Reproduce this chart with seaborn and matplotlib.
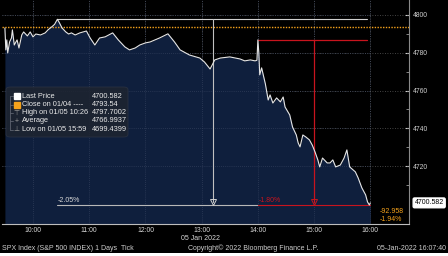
import numpy as np
import pandas as pd
import seaborn as sns
import matplotlib
matplotlib.use("Agg")
import matplotlib.pyplot as plt
from matplotlib.patches import FancyBboxPatch, Rectangle

# ---------------- data ----------------
times = ["09:30", "09:31", "09:32", "09:33", "09:35", "09:37", "09:38", "09:40", "09:43", "09:45",
         "09:48", "09:50", "09:54", "09:57", "10:00", "10:03", "10:08", "10:13", "10:16", "10:20",
         "10:23", "10:26", "10:28", "10:31", "10:35", "10:38", "10:41", "10:45", "10:50", "10:57",
         "11:01", "11:06", "11:11", "11:17", "11:25", "11:31", "11:38", "11:43", "11:49", "11:54",
         "12:00", "12:05", "12:15", "12:24", "12:31", "12:37", "12:47", "12:58", "13:03", "13:09",
         "13:14", "13:20", "13:30", "13:41", "13:46", "13:52", "13:57", "13:59", "14:00", "14:01",
         "14:02", "14:04", "14:08", "14:11", "14:13", "14:16", "14:20", "14:24", "14:27", "14:29",
         "14:34", "14:37", "14:41", "14:43", "14:45", "14:48", "14:51", "14:55", "14:58", "15:01",
         "15:04", "15:06", "15:09", "15:14", "15:17", "15:20", "15:23", "15:28", "15:32", "15:35",
         "15:38", "15:44", "15:47", "15:51", "15:55", "15:57", "15:59", "16:00"]
prices = [4793.1, 4781.5, 4786.8, 4779.9, 4785.7, 4787.8, 4792.1, 4784.1, 4786.8, 4782.5,
          4789.4, 4791.0, 4788.9, 4791.0, 4788.4, 4789.9, 4789.4, 4790.5, 4792.1, 4793.7,
          4795.0, 4797.7, 4796.0, 4793.1, 4791.0, 4789.9, 4790.5, 4789.4, 4790.5, 4791.5,
          4787.8, 4784.1, 4787.8, 4788.4, 4790.5, 4786.8, 4783.1, 4781.5, 4782.5, 4784.1,
          4785.2, 4785.7, 4787.8, 4790.0, 4785.7, 4781.5, 4778.8, 4777.2, 4775.1, 4771.4,
          4776.2, 4777.2, 4777.8, 4776.7, 4775.7, 4776.2, 4775.7, 4776.0, 4786.8, 4780.0,
          4768.3, 4772.0, 4763.5, 4755.0, 4757.7, 4753.4, 4756.1, 4754.0, 4756.6, 4751.3,
          4747.1, 4740.7, 4736.5, 4732.3, 4730.2, 4736.5, 4735.5, 4733.9, 4731.2, 4727.5,
          4723.3, 4719.6, 4724.3, 4721.7, 4721.7, 4723.3, 4719.6, 4720.6, 4724.3, 4728.6,
          4719.6, 4717.0, 4713.8, 4708.5, 4704.8, 4701.1, 4699.44, 4700.582]

legend_labels = ["Last Price", "Close on 01/04 ----", "High on 01/05 10:26", "Average", "Low on 01/05 15:59"]
legend_values = ["4700.582", "4793.54", "4797.7002", "4766.9937", "4699.4399"]
last_price = 4700.582
prev_close = 4793.54
high_price, high_time = 4797.7002, "10:26"
low_price, low_time = 4699.4399, "15:59"
spike_price, spike_time = 4786.8, "14:00"
hour_ticks = ["10:00", "11:00", "12:00", "13:00", "14:00", "15:00", "16:00"]
y_ticks = [4720, 4740, 4760, 4780, 4800]
drop_labels = ["-2.05%", "-1.80%"]
footer_left = "SPX Index (S&P 500 INDEX) 1 Days  Tick"
footer_mid = "Copyright\u00a9 2022 Bloomberg Finance L.P."
footer_right = "05-Jan-2022 16:07:40"
date_label = "05 Jan 2022"


def tmin(s):
    h, m = s.split(":")
    return int(h) * 60 + int(m) - 570


df = pd.DataFrame({"minute": [tmin(t) for t in times], "price": prices})

# ---------------- figure ----------------
W, H = 448, 256
fig = plt.figure(figsize=(W / 100, H / 100), dpi=100, facecolor="black")
sns.set_style("dark")
plt.rcParams["font.family"] = ["Liberation Sans", "DejaVu Sans"]


def fx(px):
    return px / W


def fy(py):
    return 1 - py / H


ax = fig.add_axes([fx(2), fy(224), fx(409) - fx(2), fy(0) - fy(224)])
ax.set_facecolor("black")
xmin, xmax = -3.1, 431.3
ymin, ymax = 4689.4, 4807.9
ax.set_xlim(xmin, xmax)
ax.set_ylim(ymin, ymax)

# grid
grid_kw = dict(color="#5a5a5a", lw=0.6, ls=(0, (1, 2)), zorder=1)
for t in hour_ticks:
    ax.axvline(tmin(t), **grid_kw)
for v in y_ticks:
    ax.axhline(v, **grid_kw)

# area + line
ax.fill_between(df["minute"], df["price"], ymin, color="#0f1f3d", zorder=2, lw=0)
for v in y_ticks:
    ax.plot([xmin, df["minute"].max()], [v, v], color="#3d4a66", lw=0.5, ls=(0, (1, 2)), zorder=2.5)
for t in hour_ticks:
    ax.plot([tmin(t), tmin(t)], [ymin, ymax], color="#3d4a66", lw=0.5, ls=(0, (1, 2)), zorder=2.5)

# previous close
ax.axhline(prev_close, color="#f5a21b", lw=1.0, ls=(0, (1, 1)), zorder=3)

# high -> low drawdown annotation
end_x = tmin("15:56")
hx, lx, sx = tmin(high_time), tmin(low_time), tmin(spike_time)
ax.plot([hx, end_x], [high_price, high_price], color="#d0d0d0", lw=0.8, zorder=3)
ax.plot([hx, sx], [low_price, low_price], color="#b8b8b8", lw=0.8, zorder=5)
mid1 = (hx + lx) / 2
ax.plot([mid1, mid1], [high_price, low_price + 1.5], color="#c0c0c0", lw=0.8, zorder=5)
ax.plot([mid1], [low_price + 1.8], marker="v", ms=4, mfc="none", mec="#d0d0d0", mew=0.7, zorder=6)
ax.text(hx, low_price + 0.8, drop_labels[0], color="#d8d8d8", fontsize=5, ha="left", va="bottom", zorder=6)

# spike -> low annotation
red = "#c8141e"
ax.plot([sx, end_x], [spike_price, spike_price], color=red, lw=0.9, zorder=3)
ax.plot([sx, tmin("16:00")], [low_price, low_price], color=red, lw=0.8, zorder=5)
mid2 = (sx + lx) / 2
ax.plot([mid2, mid2], [spike_price, low_price + 1.5], color=red, lw=0.9, zorder=5)
ax.plot([mid2], [low_price + 1.8], marker="v", ms=4, mfc="none", mec=red, mew=0.7, zorder=6)
ax.text(sx + 1, low_price + 0.8, drop_labels[1], color=red, fontsize=5, ha="left", va="bottom", zorder=6)

# price line on top
sns.lineplot(data=df, x="minute", y="price", ax=ax, color="#e6e6e6", lw=0.8, zorder=8)

# change box on the right
chg = last_price - prev_close
pct = chg / prev_close * 100
ax.text(tmin("16:10"), low_price - 1.5, f"{chg:.3f}\n{pct:.2f}%", color="#f5a21b", fontsize=5,
        ha="left", va="top", linespacing=1.2, zorder=6)

# axes styling
ax.set_xlabel("")
ax.set_ylabel("")
ax.set_xticks([tmin(t) for t in hour_ticks])
ax.set_xticklabels(hour_ticks)
ax.yaxis.tick_right()
ax.set_yticks(y_ticks)
ax.set_yticklabels([str(v) for v in y_ticks])
ax.set_yticks([4710, 4730, 4750, 4770, 4790], minor=True)
ax.tick_params(axis="x", colors="#d8d8d8", labelsize=4.9, length=0, pad=2)
ax.tick_params(axis="y", which="major", colors="#cfcfcf", labelsize=4.9, direction="in", length=3, pad=3,
               width=0.8)
ax.tick_params(axis="y", which="minor", colors="#9a9a9a", direction="in", length=2, width=0.6)
ax.grid(False)
for side in ["left", "top"]:
    ax.spines[side].set_visible(False)
ax.spines["right"].set_color("#8a8a8a")
ax.spines["right"].set_linewidth(0.8)
ax.spines["bottom"].set_color("#bdbdbd")
ax.spines["bottom"].set_linewidth(0.8)

# last price tag
ax.annotate(f"{last_price:.3f}", xy=(xmax, last_price), xycoords="data",
            xytext=(4, 0), textcoords="offset points", fontsize=5, color="black", va="center", ha="left",
            bbox=dict(boxstyle="round,pad=0.2", fc="white", ec="white"), annotation_clip=False, zorder=10)

# legend box
lg = FancyBboxPatch((fx(6), fy(137)), fx(128) - fx(6), fy(87) - fy(137),
                    boxstyle="round,pad=0,rounding_size=0.01", transform=fig.transFigure,
                    fc="#1e2430", ec="#2c3342", lw=0.6, alpha=0.85, zorder=20)
fig.patches.append(lg)
rows_y = [96, 104.5, 113, 121, 129.5]
fig.add_artist(plt.Line2D([fx(10), fx(10)], [fy(96), fy(129.5)], color="#5d6370", lw=0.6, transform=fig.transFigure, zorder=21))
icons = [("sq", "white"), ("sq", "#f5a21b"), ("T", "#9a9a9a"), ("+", "#9a9a9a"), ("L", "#9a9a9a")]
for (kind, col), yy, lab, val in zip(icons, rows_y, legend_labels, legend_values):
    fig.add_artist(plt.Line2D([fx(10), fx(13)], [fy(yy), fy(yy)], color="#5d6370", lw=0.6,
                              transform=fig.transFigure, zorder=21))
    if kind == "sq":
        fig.patches.append(Rectangle((fx(13.5), fy(yy + 3)), fx(6), fy(yy - 3) - fy(yy + 3),
                                     transform=fig.transFigure, fc=col, ec=col, zorder=22))
    else:
        fig.text(fx(16.5), fy(yy), {"T": "\u22a4", "+": "+", "L": "\u22a5"}[kind], color=col, fontsize=5,
                 ha="center", va="center", zorder=22)
    fig.text(fx(22), fy(yy), lab, color="#eaeaea", fontsize=5.3, ha="left", va="center", zorder=22)
    fig.text(fx(92), fy(yy), val, color="#eaeaea", fontsize=5.3, ha="left", va="center", zorder=22)

# date + footer
fig.text(fx(200), fy(239), date_label, color="#d8d8d8", fontsize=5.0, ha="center", va="center")
fig.text(fx(2), fy(248), footer_left, color="#cfcfcf", fontsize=5, ha="left", va="center")
fig.text(fx(253), fy(248), footer_mid, color="#cfcfcf", fontsize=5, ha="center", va="center")
fig.text(fx(446), fy(248), footer_right, color="#cfcfcf", fontsize=5, ha="right", va="center")
fig.patches.append(Rectangle((0, 0), 1, 3 / H, transform=fig.transFigure, fc="white", ec="none", zorder=30))

fig.savefig("out.png", dpi=100, facecolor="black")
